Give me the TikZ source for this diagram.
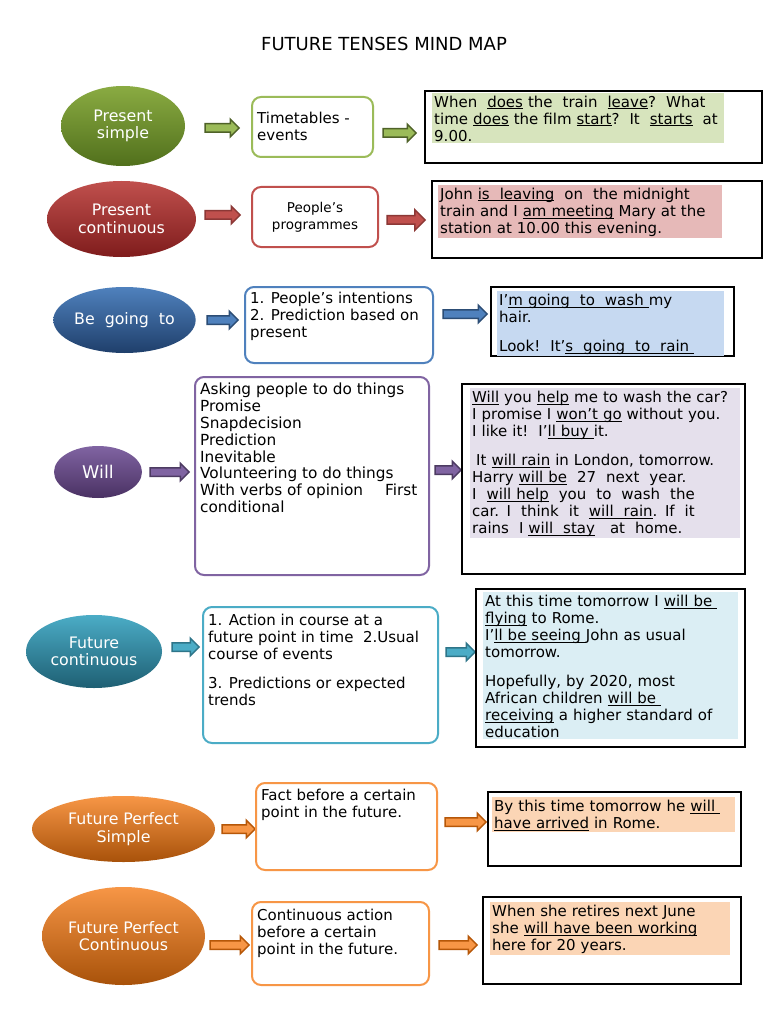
\documentclass[tikz,border=0pt]{standalone}
\usepackage{fontspec}
\setmainfont{DejaVu Sans}
\usetikzlibrary{shapes.arrows,shapes.geometric}
\newcommand{\ulx}[1]{\leavevmode\setbox0\hbox{#1}\rlap{\rule[-2.2pt]{\wd0}{0.8pt}}\box0\relax}
\definecolor{gA}{HTML}{9BBB59}\definecolor{gD}{HTML}{4F6228}\definecolor{gT}{HTML}{8AAB42}\definecolor{gB}{HTML}{51701C}\definecolor{gF}{HTML}{D7E4BD}
\definecolor{rA}{HTML}{C0504D}\definecolor{rD}{HTML}{8C3836}\definecolor{rT}{HTML}{C0504D}\definecolor{rB}{HTML}{7F1C1C}\definecolor{rF}{HTML}{E6B9B8}
\definecolor{bA}{HTML}{4F81BD}\definecolor{bD}{HTML}{2C4D75}\definecolor{bT}{HTML}{4F81BD}\definecolor{bB}{HTML}{1F3F6B}\definecolor{bF}{HTML}{C6D9F1}
\definecolor{pA}{HTML}{8064A2}\definecolor{pD}{HTML}{4D3B62}\definecolor{pT}{HTML}{8064A2}\definecolor{pB}{HTML}{4A3163}\definecolor{pF}{HTML}{E5E0EC}
\definecolor{tA}{HTML}{4BACC6}\definecolor{tD}{HTML}{2E7589}\definecolor{tT}{HTML}{4BACC6}\definecolor{tB}{HTML}{1E5F73}\definecolor{tF}{HTML}{DBEEF4}
\definecolor{oA}{HTML}{F79646}\definecolor{oD}{HTML}{B65708}\definecolor{oT}{HTML}{F79646}\definecolor{oB}{HTML}{A8520A}\definecolor{oF}{HTML}{FBD5B5}
\tikzset{
  base font/.style={font=\fontsize{15}{17}\selectfont},
  tense/.style={ellipse, inner sep=0pt, text=white, align=center, font=\fontsize{15.8}{17.5}\selectfont},
  midbox/.style={rounded corners=9pt, line width=2pt, inner sep=0pt},
  exbox/.style={draw=black, line width=1.2pt, inner sep=0pt},
  barrow/.style={single arrow, minimum width=0pt, inner sep=3.5pt, single arrow head extend=4.5pt, line width=1.5pt},
  midtxt/.style={anchor=north west, inner sep=0pt, align=left, base font},
  extxt/.style={anchor=north west, inner xsep=2pt, inner ysep=2pt, align=left, base font},
}
\begin{document}
\begin{tikzpicture}[x=1pt,y=-1pt]
\useasboundingbox[fill=white] (0,0) rectangle (768,1024);
\node[font=\fontsize{18}{21}\selectfont] (title) at (384,44) {FUTURE TENSES MIND MAP};

% Row 1
\node[tense, minimum width=124, minimum height=80, top color=gT, bottom color=gB] (e1) at (123,126) {Present\\simple};
\node[barrow, fill=gA, draw=gD, minimum height=34] (a1) at (220,128) {};
\node[midbox, draw=gA, minimum width=121, minimum height=60] (m1) at (312.5,127) {};
\node[midtxt] (m1t) at (257,111) {\strut Timetables -\\events};
\node[barrow, fill=gA, draw=gD, minimum height=33] (b1) at (397.5,133) {};
\node[exbox, minimum width=337, minimum height=72] (x1) at (593.5,127) {};
\node[extxt, fill=gF, text width=288] (x1t) at (432,93) {\strut\makebox[277pt][s]{When\ \ \ulx{does} the\ \ train\ \ \ulx{leave}?\ \ What}\\ \makebox[288pt][s]{time \ulx{does} the film \ulx{start}?\ \ It\ \ \ulx{starts}\ \ at}\\ 9.00.};

% Row 2
\node[tense, minimum width=149, minimum height=76, top color=rT, bottom color=rB] (e2) at (121.5,219) {Present\\continuous};
\node[barrow, fill=rA, draw=rD, minimum height=35] (a2) at (220.5,215) {};
\node[midbox, draw=rA, minimum width=126, minimum height=60, align=center, font=\fontsize{13.5}{17}\selectfont] (m2) at (315,217) {People’s\\programmes};
\node[barrow, fill=rA, draw=rD, minimum height=38, single arrow head extend=6pt] (b2) at (404,220) {};
\node[exbox, minimum width=330, minimum height=77] (x2) at (597,219.5) {};
\node[extxt, fill=rF, text width=280] (x2t) at (438,185) {\strut John \ulx{is\ \ leaving}\ \ on\ \ the midnight\\ train and I \ulx{am meeting} Mary at the\\ station at 10.00 this evening.};

% Row 3
\node[tense, minimum width=141, minimum height=66, top color=bT, bottom color=bB] (e3) at (124.5,320) {Be\ \ going\ \ to};
\node[barrow, fill=bA, draw=bD, minimum height=31] (a3) at (220.5,320) {};
\node[midbox, draw=bA, minimum width=188, minimum height=76] (m3) at (339,325) {};
\node[midtxt] (m3t) at (250,291) {\strut 1. People’s intentions\\2. Prediction based on\\present};
\node[barrow, fill=bA, draw=bD, minimum height=44] (b3) at (463,314) {};
\node[exbox, minimum width=243, minimum height=69] (x3) at (612.5,321.5) {};
\node[extxt, fill=bF, text width=223] (x3t) at (497,291) {\strut I’\ulx{m going\ \ to\ \ wash\ }my\\ hair.\\[12pt] Look!\ \ It’\ulx{s\ \ going\ \ to\ \ rain\ }};

% Row 4
\node[tense, minimum width=88, minimum height=52, top color=pT, bottom color=pB, font=\fontsize{17.5}{20}\selectfont] (e4) at (98,472) {Will};
\node[barrow, fill=pA, draw=pD, minimum height=39] (a4) at (167.5,472) {};
\node[midbox, draw=pA, minimum width=234, minimum height=198] (m4) at (312,476) {};
\node[midtxt, font=\fontsize{15.3}{16.8}\selectfont] (m4t) at (200,383) {\strut Asking people to do things\\Promise\\Snapdecision\\Prediction\\Inevitable\\Volunteering to do things\\With verbs of opinion\hspace{22pt}First\\conditional};
\node[barrow, fill=pA, draw=pD, minimum height=26] (b4) at (446,470) {};
\node[exbox, minimum width=283, minimum height=190] (x4) at (603.5,479) {};
\node[extxt, fill=pF, text width=266] (x4t) at (470,388) {\strut \ulx{Will} you \ulx{help} me to wash the car?\\ I promise I \ulx{won’t go} without you.\\ I like it!\ \ I’\ulx{ll buy }it.\\[12pt] \hspace*{4pt}It \ulx{will rain} in London, tomorrow.\\ Harry \ulx{will be}\ \ 27\ \ next\ \ year.\\ \makebox[259pt][s]{I\ \ \ulx{will help}\ \ you\ \ to\ \ wash\ \ the}\\ \makebox[224pt][s]{car. I\ \ think\ \ it\ \ \ulx{will\ \ rain}. If\ \ it}\\ rains\ \ I \ulx{will\ \ stay}\ \ \ at\ \ home.};

% Row 5
\node[tense, minimum width=136, minimum height=73, top color=tT, bottom color=tB] (e5) at (94,651.5) {Future\\continuous};
\node[barrow, fill=tA, draw=tD, minimum height=27] (a5) at (183.5,647) {};
\node[midbox, draw=tA, minimum width=235, minimum height=136] (m5) at (320.5,675) {};
\node[midtxt] (m5t) at (208,613) {\strut 1. Action in course at a\\future point in time\ \ 2.Usual\\course of events\\[12pt]3. Predictions or expected\\trends};
\node[barrow, fill=tA, draw=tD, minimum height=29] (b5) at (458.5,652) {};
\node[exbox, minimum width=269, minimum height=158] (x5) at (610.5,668) {};
\node[extxt, fill=tF, text width=251] (x5t) at (483,592) {\strut At this time tomorrow I \ulx{will be\ }\\ \ulx{flying} to Rome.\\ I’\ulx{ll be seeing }John as usual\\ tomorrow.\\[12pt] Hopefully, by 2020, most\\ African children \ulx{will be\ }\\ \ulx{receiving} a higher standard of\\ education};

% Row 6
\node[tense, minimum width=183, minimum height=66, top color=oT, bottom color=oB] (e6) at (123.5,829) {Future Perfect\\Simple};
\node[barrow, fill=oA, draw=oD, minimum height=33] (a6) at (236.5,829) {};
\node[midbox, draw=oA, minimum width=181, minimum height=87] (m6) at (346.5,826.5) {};
\node[midtxt] (m6t) at (261,788) {\strut Fact before a certain\\point in the future.};
\node[barrow, fill=oA, draw=oD, minimum height=41] (b6) at (463.5,822) {};
\node[exbox, minimum width=253, minimum height=74] (x6) at (614.5,829) {};
\node[extxt, fill=oF, text width=239] (x6t) at (492,797) {\strut By this time tomorrow he \ulx{will\ }\\ \ulx{have arrived} in Rome.};

% Row 7
\node[tense, minimum width=163, minimum height=98, top color=oT, bottom color=oB] (e7) at (123.5,936) {Future Perfect\\Continuous};
\node[barrow, fill=oA, draw=oD, minimum height=39] (a7) at (227.5,945) {};
\node[midbox, draw=oA, minimum width=177, minimum height=83] (m7) at (340.5,943.5) {};
\node[midtxt] (m7t) at (257,908) {\strut Continuous action\\before a certain\\point in the future.};
\node[barrow, fill=oA, draw=oD, minimum height=38] (b7) at (456,945) {};
\node[exbox, minimum width=258, minimum height=87] (x7) at (612,940.5) {};
\node[extxt, fill=oF, text width=236] (x7t) at (490,902) {\strut When she retires next June\\ she \ulx{will have been working}\\ here for 20 years.};
\end{tikzpicture}
\end{document}
